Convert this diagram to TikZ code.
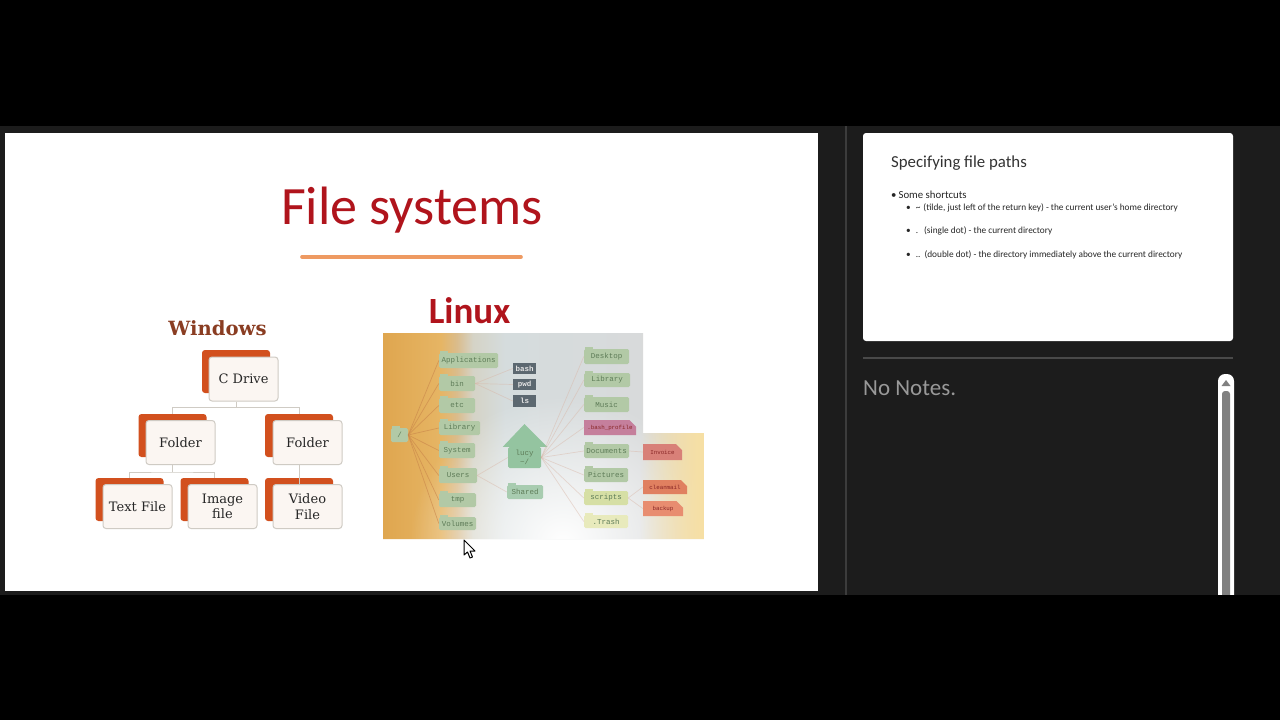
\documentclass[tikz,border=0pt]{standalone}
\usepackage{fontspec}
\setmainfont{Carlito}
\newfontfamily\serifb{DejaVu Serif}
\newfontfamily\monof{Liberation Mono}
\usetikzlibrary{fadings,calc,positioning,shapes.misc}
\definecolor{panel}{HTML}{1C1C1C}
\definecolor{orbox}{HTML}{D2501E}
\definecolor{whbox}{HTML}{FBF6F2}
\definecolor{edgec}{HTML}{CFCBC4}
\definecolor{titlered}{HTML}{B0141C}
\definecolor{lnk}{HTML}{D8B4A4}
\definecolor{lnkroot}{HTML}{C8844A}
\definecolor{foldc}{HTML}{B2C9A6}
\definecolor{foldt}{HTML}{5E7C58}
\definecolor{cmdc}{HTML}{5C6870}
\definecolor{housec}{HTML}{94C4A0}
\definecolor{sharedc}{HTML}{A8CCB0}
\definecolor{pinkc}{HTML}{C57F9C}
\definecolor{scrc}{HTML}{D6DFA5}
\definecolor{trashc}{HTML}{E8EABC}
\definecolor{invc}{HTML}{D88078}
\definecolor{clnc}{HTML}{E08060}
\definecolor{bakc}{HTML}{E88D70}
\definecolor{wint}{HTML}{8A3D22}
\definecolor{ula}{HTML}{EE9A62}
\definecolor{ia}{HTML}{DFA64F}
\definecolor{ib}{HTML}{E6B564}
\definecolor{ic}{HTML}{DABC8C}
\definecolor{id}{HTML}{D5D3C6}
\definecolor{ie}{HTML}{D5DCDD}
\definecolor{if}{HTML}{D8DADB}
\definecolor{ig}{HTML}{EAD9B4}
\definecolor{iy}{HTML}{F7E0A4}
\pgfdeclarehorizontalshading{imgbase}{100bp}{
 color(0bp)=(ia);
 color(25bp)=(ia);
 color(34bp)=(ib);
 color(36.5bp)=(ic);
 color(39bp)=(id);
 color(44bp)=(ie);
 color(65bp)=(if);
 color(75bp)=(ig);
 color(100bp)=(ig)}
\tikzfading[name=fadeR,left color=transparent!100,right color=transparent!0]
\tikzfading[name=fadeO,inner color=transparent!0,outer color=transparent!100]
\tikzset{
 x=1pt,y=-1pt,
 orb/.style={draw=none,fill=orbox,rounded corners=3pt,inner sep=0pt},
 whb/.style={draw=edgec,line width=1pt,fill=whbox,rounded corners=3pt,inner sep=0pt,align=center,text=black!85,font=\serifb\fontsize{13}{15.5}\selectfont},
 conn/.style={draw=edgec,line width=1pt},
 lk/.style={draw=lnk,line width=.7pt,opacity=.45},
 lkroot/.style={draw=lnkroot,line width=.7pt,opacity=.6},
 fold/.style={fill=#1,rounded corners=1.5pt,inner sep=0pt,text=foldt,font=\monof\fontsize{7.5}{8}\selectfont,
   append after command={\pgfextra{\fill[#1] ($(\tikzlastnode.north west)+(1,2)$) rectangle ($(\tikzlastnode.north west)+(9,-1.5)$);}}},
 plain/.style={fill=#1,rounded corners=1.5pt,inner sep=0pt,text=foldt,font=\monof\fontsize{7.5}{8}\selectfont},
 cmdb/.style={fill=cmdc,inner sep=0pt,text=white!80!gray,font=\monof\bfseries\fontsize{7.5}{8}\selectfont},
 filen/.style={shape=chamfered rectangle,chamfered rectangle corners=north east,chamfered rectangle xsep=4pt,chamfered rectangle ysep=4pt,fill=#1,inner sep=0pt,text=black!45!red!70!gray,font=\monof\fontsize{5.8}{8}\selectfont},
 thumbt/.style={anchor=west,inner sep=0pt,text=black!85,font=\fontsize{10.8}{12}\selectfont},
 thumbs/.style={anchor=west,inner sep=0pt,text=black!85,font=\fontsize{9.3}{11}\selectfont},
}
\newcommand{\wbox}[6]{% name, ox, oy, wx, wy, text
 \node[orb,minimum width=68pt,minimum height=43pt] (#1o) at (#2,#3) {};
 \node[whb,minimum width=69pt,minimum height=44pt] (#1) at (#4,#5) {#6};}
\newcommand{\fld}[7][fold=foldc]{% opts,name,x1,y1,x2,y2,text
 \pgfmathsetmacro\cxx{(#3+#5)/2}\pgfmathsetmacro\cyy{(#4+#6)/2}
 \pgfmathsetmacro\ww{#5-#3}\pgfmathsetmacro\hh{#6-#4}
 \node[#1,minimum width=\ww pt,minimum height=\hh pt] (#2) at (\cxx,\cyy) {#7};}
\begin{document}
\begin{tikzpicture}
\useasboundingbox (0,0) rectangle (1280,720);
\fill[black] (0,0) rectangle (1280,720);
\fill[panel] (0,126) rectangle (1280,595);
% slide
\fill[white] (5,133) rectangle (818,591);
\node[text=titlered,font=\fontsize{54}{60}\selectfont,inner sep=0pt] (title) at (412,210) {File systems};
\draw[line width=3.6pt,color=ula,line cap=round] (302,257) -- (521,257);
% windows
\node[text=wint,font=\serifb\bfseries\fontsize{19.6}{22}\selectfont,inner sep=0pt] (win) at (217.5,328) {Windows};
\wbox{cd}{236}{371.5}{243.5}{379}{C Drive}
\wbox{fa}{172.5}{435.5}{180.5}{442.5}{Folder}
\wbox{fb}{299}{435.5}{307.5}{442.5}{Folder}
\wbox{ta}{129.5}{499.5}{137.5}{506.5}{Text File}
\wbox{ti}{214.5}{499.5}{222.5}{506.5}{Image\\file}
\wbox{tv}{299}{499.5}{307.5}{506.5}{Video\\File}
\draw[conn] (cdo.center |- cd.south) -- ++(0,6) coordinate (j1);
\draw[conn] (fao.north) |- (j1) -| (fbo.north);
\draw[conn] (fao.center |- fa.south) -- ++(0,7) coordinate (j2);
\draw[conn] (tao.north) |- (j2) -| (tio.north);
\draw[conn] (fbo.center |- fb.south) -- (tvo.center |- tv.north);
% linux
\node[text=titlered,font=\bfseries\fontsize{37}{42}\selectfont,inner sep=0pt] (lin) at (469.5,311) {Linux};
\begin{scope}
\clip (383,333) -- (643,333) -- (643,433) -- (704,433) -- (704,539) -- (383,539) -- cycle;
\shade[shading=imgbase] (383,333) rectangle (704,539);
\fill[white,path fading=fadeO] (410,395) rectangle (715,690);
\fill[iy,path fading=fadeR] (640,433) rectangle (704,539);
\end{scope}
\fld{root}{391}{428}{408}{442}{/}
\fld{a1}{439}{353}{498}{368}{Applications}
\fld{a2}{439}{376}{475}{391}{bin}
\fld{a3}{439}{398}{475}{413}{etc}
\fld{a4}{439}{421}{480}{435}{Library}
\fld{a5}{439}{443}{475}{458}{System}
\fld{a6}{439}{468}{477}{483}{Users}
\fld{a7}{439}{493}{476}{507}{tmp}
\fld{a8}{439}{517}{476}{530}{Volumes}
\fld[cmdb]{c1}{513}{363}{536}{374}{bash}
\fld[cmdb]{c2}{513}{379}{536}{390}{pwd}
\fld[cmdb]{c3}{513}{395}{536}{407}{ls}
\fld[fold=sharedc]{shared}{507}{485}{543}{499}{Shared}
\fld[plain=housec,align=center]{home}{508}{447}{541}{468}{lucy\\[1pt]\textasciitilde/}
\fill[housec] ($(home.north west)+(-5,0)$) -- (524.5,424) -- ($(home.north east)+(6,0)$) -- cycle;
\fld{b1}{584}{349}{629}{364}{Desktop}
\fld{b2}{584}{373}{630}{387}{Library}
\fld{b3}{584}{397}{629}{412}{Music}
\fld[filen=pinkc]{b4}{584}{420}{636}{435}{.bash\_profile}
\fld{b5}{584}{444}{629}{458}{Documents}
\fld{b6}{584}{468}{628}{482}{Pictures}
\fld[fold=scrc]{b7}{584}{491}{628}{505}{scripts}
\fld[fold=trashc]{b8}{584}{515}{628}{528}{.Trash}
\fld[filen=invc]{d1}{643}{444}{682}{460}{Invoice}
\fld[filen=clnc]{d2}{643}{480}{687}{494}{cleanmail}
\fld[filen=bakc]{d3}{643}{501}{683}{516}{backup}
\foreach \n in {a1,a2,a3,a4,a5,a6,a7,a8}{\draw[lkroot] (root.east) to (\n.west);}
\foreach \n in {c1,c2,c3}{\draw[lk] (a2.east) to (\n.west);}
\draw[lk] (a6.east) to (home.west);
\draw[lk] (a6.east) to (shared.west);
\foreach \n in {b1,b2,b3,b4,b5,b6,b7,b8}{\draw[lk] (home.east) to (\n.west);}
\draw[lk] (b5.east) to (d1.west);
\draw[lk] (b7.east) to (d2.west);
\draw[lk] (b7.east) to (d3.west);
% cursor
\coordinate (cur) at (464,540);
\draw[black,fill=white,line width=1pt,line join=round] (cur) -- ++(0,15) -- ++(3.5,-3) -- ++(2.5,6) -- ++(2.5,-1) -- ++(-2.5,-6) -- ++(5,0) -- cycle;
% right panel
\draw[color=white!14!panel,line width=1.2pt] (846,126) -- (846,595);
\fill[white,rounded corners=3pt] (863,133) rectangle (1233,341);
\node[anchor=west,inner sep=0pt,text=black!80,font=\fontsize{16.8}{19}\selectfont] (st) at (891,163) {Specifying file paths};
\node[thumbt] (s0) at (891,195) {\textbullet\hspace{2pt}Some shortcuts};
\node[thumbs] (s1) at (906,207.5) {\textbullet\hspace{5pt}\textasciitilde\hspace{3pt}(tilde, just left of the return key) - the current user's home directory};
\node[thumbs] (s2) at (906,231) {\textbullet\hspace{5pt}.\hspace{6pt}(single dot) - the current directory};
\node[thumbs] (s3) at (906,255) {\textbullet\hspace{5pt}..\hspace{4pt}(double dot) - the directory immediately above the current directory};
\draw[color=white!20!panel,line width=1.6pt] (863,358) -- (1233,358);
\node[anchor=west,inner sep=0pt,text=white!60!black,font=\fontsize{23}{26}\selectfont] (nn) at (863,388) {No Notes.};
% scrollbar
\fill[white,rounded corners=7pt] (1218,374) rectangle (1234,610);
\fill[white!50!black,rounded corners=3pt] (1222,391) rectangle (1230,610);
\fill[black] (1210,595) rectangle (1240,612);
\fill[white!50!black] (1226,380) -- (1230.5,386) -- (1221.5,386) -- cycle;
\end{tikzpicture}
\end{document}
